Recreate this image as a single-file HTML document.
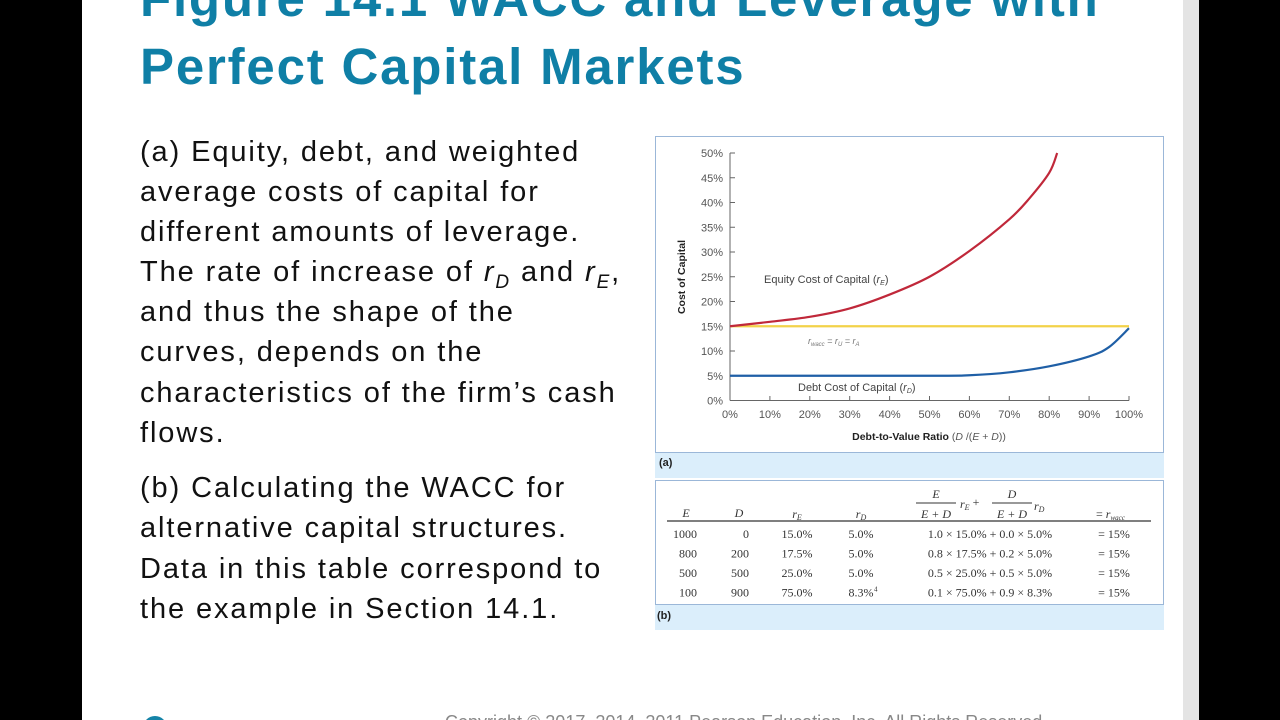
<!DOCTYPE html>
<html><head><meta charset="utf-8">
<style>
body{margin:0;width:1280px;height:720px;overflow:hidden;background:#000;font-family:"Liberation Sans",sans-serif;}
#slide{position:absolute;left:82px;top:0;width:1101px;height:720px;background:#fff;}
#gutter{position:absolute;left:1183px;top:0;width:16px;height:720px;background:#e4e4e4;}
.t{position:absolute;font-size:51px;font-weight:bold;color:#0f7fa6;white-space:nowrap;left:140px;letter-spacing:1.8px;}
.ln{position:absolute;left:140px;font-size:29px;color:#111;white-space:nowrap;letter-spacing:1.9px;}
.ln i sub{font-size:19px;}
</style></head><body>
<div id="slide"></div>
<div id="gutter"></div>
<div class="t" style="top:-31px">Figure 14.1 WACC and Leverage with</div>
<div class="t" style="top:37px">Perfect Capital Markets</div>
<div>
<div class="ln" style="top:136px">(a) Equity, debt, and weighted</div>
<div class="ln" style="top:176px">average costs of capital for</div>
<div class="ln" style="top:216px">different amounts of leverage.</div>
<div class="ln" style="top:256px">The rate of increase of <i>r<sub>D</sub></i> and <i>r<sub>E</sub></i>,</div>
<div class="ln" style="top:296px">and thus the shape of the</div>
<div class="ln" style="top:336px">curves, depends on the</div>
<div class="ln" style="top:377px">characteristics of the firm’s cash</div>
<div class="ln" style="top:417px">flows.</div>
</div>
<div>
<div class="ln" style="top:472px">(b) Calculating the WACC for</div>
<div class="ln" style="top:512px">alternative capital structures.</div>
<div class="ln" style="top:553px">Data in this table correspond to</div>
<div class="ln" style="top:593px">the example in Section 14.1.</div>
</div>

<svg id="chart" width="1280" height="720" style="position:absolute;left:0;top:0">
<rect x="655.5" y="136.5" width="508" height="316" fill="#fff" stroke="#9bb7d8"/>
<rect x="655" y="453" width="509" height="25" fill="#dbeefb"/>
<text x="659" y="466" font-size="11" font-weight="bold" fill="#222">(a)</text>
<g id="axes"></g>
<g id="series"></g>
<text x="764" y="283" font-size="11" fill="#444">Equity Cost of Capital (<tspan font-style="italic">r</tspan><tspan font-style="italic" font-size="7" dy="2">E</tspan><tspan dy="-2">)</tspan></text>
<text x="808" y="344" font-size="9" fill="#777" font-style="italic">r<tspan font-size="6" dy="2">wacc</tspan><tspan dy="-2"> = r</tspan><tspan font-size="6" dy="2">U</tspan><tspan dy="-2"> = r</tspan><tspan font-size="6" dy="2">A</tspan></text>
<text x="798" y="391" font-size="11" fill="#444">Debt Cost of Capital (<tspan font-style="italic">r</tspan><tspan font-style="italic" font-size="7" dy="2">D</tspan><tspan dy="-2">)</tspan></text>
<text x="685" y="277" font-size="10.5" font-weight="bold" fill="#222" transform="rotate(-90 685 277)" text-anchor="middle">Cost of Capital</text>
<text x="929" y="440" font-size="10.5" fill="#222" text-anchor="middle"><tspan font-weight="bold">Debt-to-Value Ratio</tspan><tspan fill="#555"> (<tspan font-style="italic">D</tspan> /(<tspan font-style="italic">E</tspan> + <tspan font-style="italic">D</tspan>))</tspan></text>

<rect x="655.5" y="480.5" width="508" height="124" fill="#fff" stroke="#9bb7d8"/>
<rect x="655" y="605" width="509" height="25" fill="#dbeefb"/>
<text x="657" y="619" font-size="11" font-weight="bold" fill="#222">(b)</text>
<g font-family="Liberation Serif,serif" font-size="12" fill="#333">
<g font-style="italic">
<text x="686" y="517" text-anchor="middle">E</text>
<text x="739" y="517" text-anchor="middle">D</text>
<text x="797" y="518" text-anchor="middle">r<tspan font-size="8" dy="2">E</tspan></text>
<text x="861" y="518" text-anchor="middle">r<tspan font-size="8" dy="2">D</tspan></text>
<text x="936" y="498" text-anchor="middle">E</text>
<line x1="916" y1="503" x2="956" y2="503" stroke="#333"/>
<text x="936" y="518" text-anchor="middle">E + D</text>
<text x="960" y="508">r<tspan font-size="8" dy="2">E</tspan><tspan dy="-4" font-style="normal"> +</tspan></text>
<text x="1012" y="498" text-anchor="middle">D</text>
<line x1="992" y1="503" x2="1032" y2="503" stroke="#333"/>
<text x="1012" y="518" text-anchor="middle">E + D</text>
<text x="1034" y="510">r<tspan font-size="8" dy="2">D</tspan></text>
<text x="1096" y="518"><tspan font-style="normal">= </tspan>r<tspan font-size="7" dy="2">wacc</tspan></text>
</g>
<line x1="667" y1="521" x2="1151" y2="521" stroke="#333" stroke-width="1.3"/>
<g id="rows"></g>
</g>
<circle cx="155" cy="728" r="12" fill="#1584a8"/>
<text x="445" y="728" font-size="18" fill="#888">Copyright © 2017, 2014, 2011 Pearson Education, Inc. All Rights Reserved</text>
</svg>
<script>
const xTicks=[0,10,20,30,40,50,60,70,80,90,100];
const yTicks=[0,5,10,15,20,25,30,35,40,45,50];
const equityX=[0,10,20,30,40,50,60,70,75,80,82];
const equityY=[15,15.9,16.9,18.6,21.4,25,30.2,36.6,40.8,46,50];
const waccX=[0,100];
const waccY=[15,15];
const debtX=[0,50,60,70,80,90,95,100];
const debtY=[5,5,5.1,5.7,6.9,8.9,10.8,14.6];
const rowE=["1000","800","500","100"];
const rowD=["0","200","500","900"];
const rowRE=["15.0%","17.5%","25.0%","75.0%"];
const rowRD=["5.0%","5.0%","5.0%","8.3%"];
const rowCalc=["1.0 × 15.0% + 0.0 × 5.0%","0.8 × 17.5% + 0.2 × 5.0%","0.5 × 25.0% + 0.5 × 5.0%","0.1 × 75.0% + 0.9 × 8.3%"];
const rowW=["= 15%","= 15%","= 15%","= 15%"];
const NS="http://www.w3.org/2000/svg";
const sx=v=>730+v*(1129-730)/100;
const sy=v=>400.5-v*(400.5-153)/50;
function mk(t,a,p){const e=document.createElementNS(NS,t);for(const k in a)e.setAttribute(k,a[k]);p.appendChild(e);return e;}
const ax=document.getElementById('axes');
let l=mk('line',{x1:730,y1:153,x2:730,y2:400.5,stroke:'#666'},ax);


l=mk('line',{x1:730,y1:400.5,x2:1129,y2:400.5,stroke:'#666'},ax);


yTicks.forEach(v=>{const y=sy(v);
 mk('line',{x1:730,y1:y,x2:735,y2:y,stroke:'#666'},ax);
 const t=mk('text',{x:723,y:y+4,'font-size':11,fill:'#555','text-anchor':'end'},ax);t.textContent=v+'%';
 
 });
xTicks.forEach(v=>{const x=sx(v);
 mk('line',{x1:x,y1:396,x2:x,y2:400.5,stroke:'#666'},ax);
 const t=mk('text',{x:x,y:418,'font-size':11,fill:'#555','text-anchor':'middle'},ax);t.textContent=v+'%';
 
 });
function path(X,Y){const P=X.map((x,i)=>[sx(x),sy(Y[i])]);let d='M'+P[0][0]+','+P[0][1];
 for(let i=0;i<P.length-1;i++){const p0=P[i-1]||P[i],p1=P[i],p2=P[i+1],p3=P[i+2]||p2;
 d+=' C'+(p1[0]+(p2[0]-p0[0])/6)+','+(p1[1]+(p2[1]-p0[1])/6)+' '+(p2[0]-(p3[0]-p1[0])/6)+','+(p2[1]-(p3[1]-p1[1])/6)+' '+p2[0]+','+p2[1];}return d;}
const sg=document.getElementById('series');
let p=mk('path',{d:path(waccX,waccY),fill:'none',stroke:'#f2d24a','stroke-width':2.2},sg);


p=mk('path',{d:path(debtX,debtY),fill:'none',stroke:'#1f5fa6','stroke-width':2.2},sg);


p=mk('path',{d:path(equityX,equityY),fill:'none',stroke:'#c0283a','stroke-width':2.2},sg);


const rg=document.getElementById('rows');
rowE.forEach((e,i)=>{const y=538+i*19.5;
 const g=mk('g',{},rg);
 
 
 const cells=[[e,697,'end'],[rowD[i],749,'end'],[rowRE[i],797,'middle'],[rowRD[i],861,'middle'],[rowCalc[i],990,'middle'],[rowW[i],1114,'middle']];
 cells.forEach(c=>{const t=mk('text',{x:c[1],y:y,'text-anchor':c[2]},g);t.textContent=c[0];});
 if(i==3){const s=mk('text',{x:874,y:y-5,'font-size':7},g);s.textContent='4';}
});
</script>
</body></html>
